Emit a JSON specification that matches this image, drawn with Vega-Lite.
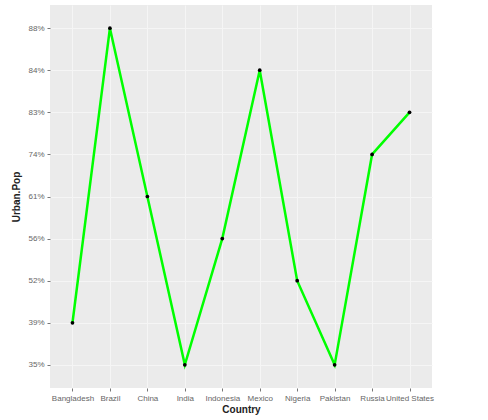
{
  "$schema": "https://vega.github.io/schema/vega-lite/v6.json",
  "width": 382,
  "height": 383,
  "autosize": {"type": "none"},
  "padding": {"left": 50, "top": 5, "right": 56, "bottom": 32},
  "background": "white",
  "config": {
    "view": {"fill": "#EBEBEB", "stroke": null},
    "font": "Liberation Sans",
    "axis": {
      "grid": true,
      "gridColor": "#F5F5F5",
      "gridWidth": 1,
      "domain": false,
      "tickColor": "#777777",
      "tickSize": 3,
      "labelColor": "#666666",
      "labelFontSize": 8,
      "titleFontSize": 10,
      "titleFontWeight": "bold",
      "titleColor": "#222222"
    }
  },
  "data": {
    "values": [
      {"Country": "Bangladesh", "UrbanPop": "39%"},
      {"Country": "Brazil", "UrbanPop": "88%"},
      {"Country": "China", "UrbanPop": "61%"},
      {"Country": "India", "UrbanPop": "35%"},
      {"Country": "Indonesia", "UrbanPop": "56%"},
      {"Country": "Mexico", "UrbanPop": "84%"},
      {"Country": "Nigeria", "UrbanPop": "52%"},
      {"Country": "Pakistan", "UrbanPop": "35%"},
      {"Country": "Russia", "UrbanPop": "74%"},
      {"Country": "United States", "UrbanPop": "83%"}
    ]
  },
  "encoding": {
    "x": {
      "field": "Country",
      "type": "ordinal",
      "scale": {"type": "point", "padding": 0.6},
      "axis": {"labelAngle": 0, "title": "Country", "titlePadding": 2, "labelPadding": 3, "grid": true}
    },
    "y": {
      "field": "UrbanPop",
      "type": "ordinal",
      "sort": "descending",
      "scale": {"type": "point", "padding": 0.55},
      "axis": {"title": "Urban.Pop", "titlePadding": 6, "labelPadding": 3, "grid": true}
    }
  },
  "layer": [
    {"mark": {"type": "line", "color": "#00FF00", "strokeWidth": 2.5}},
    {"mark": {"type": "point", "filled": true, "color": "black", "size": 14, "opacity": 1}}
  ]
}
